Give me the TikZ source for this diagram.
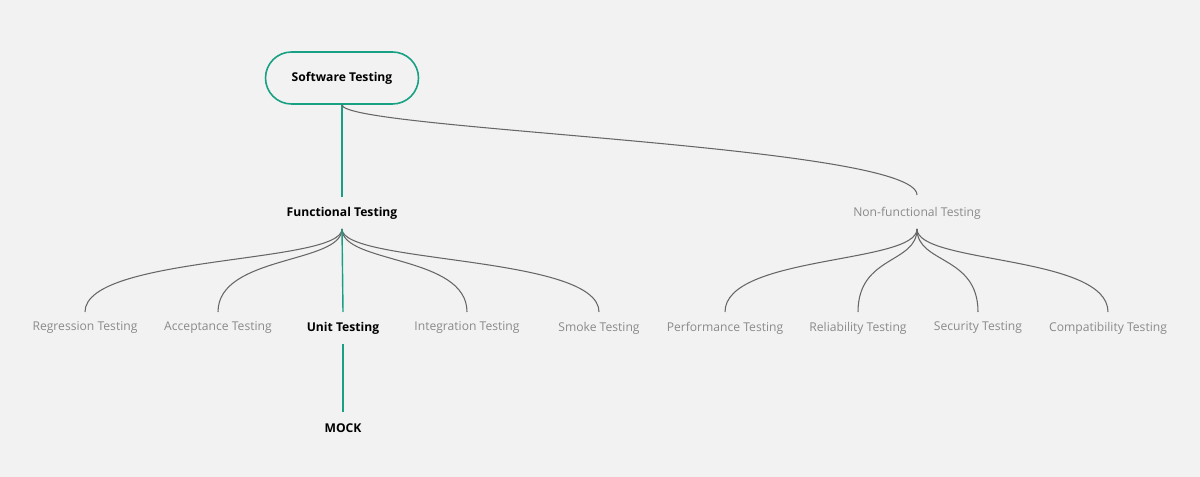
\documentclass[tikz,border=0pt]{standalone}
\usepackage{fontspec}
\setmainfont{Open Sans}
\usetikzlibrary{calc}
\definecolor{bgcol}{HTML}{F2F2F2}
\definecolor{green}{HTML}{17A083}
\definecolor{linecol}{HTML}{666666}
\definecolor{softcol}{HTML}{8A8A8A}

\begin{document}
\begin{tikzpicture}[
    label/.style={font=\fontsize{6.9}{8.5}\selectfont, text=softcol, inner sep=2pt},
    strong/.style={label, text=black, font=\fontsize{6.9}{8.5}\selectfont\bfseries},
    branch/.style={draw=linecol, line width=0.6pt},
    path/.style={draw=green, line width=0.8pt}
]

    % Canvas
    \fill[bgcol] (0,0) rectangle (24,-9.54);
    \useasboundingbox (0,0) rectangle (24,-9.54);

    % Root
    \node[strong, draw=green, line width=0.9pt, rounded corners=0.52cm, minimum width=3.06cm, minimum height=1.04cm] (root) at (6.84,-1.56) {Software Testing};

    % Second level
    \node[strong] (func) at (6.84,-4.26) {Functional Testing};
    \node[label] (nonfunc) at (18.34,-4.26) {Non-functional Testing};
    \coordinate (functop) at (6.84,-3.94);
    \coordinate (nonfunctop) at (18.34,-3.90);
    \coordinate (funcbot) at (6.84,-4.58);
    \coordinate (nonfuncbot) at (18.34,-4.58);

    \draw[path] (root.south) -- (functop);
    \draw[branch] (root.south) .. controls (6.84,-2.6) and (18.34,-2.9) .. (nonfunctop);

    % Functional children
    \foreach \name/\x/\txt in {regr/1.70/Regression Testing, accept/4.36/Acceptance Testing,
        integ/9.34/Integration Testing, smoke/11.98/Smoke Testing} {
        \node[label] (\name) at (\x,-6.56) {\txt};
        \draw[branch] (funcbot) .. controls ($(funcbot)+(0,-0.7)$) and (\x,-5.1) .. (\x,-6.24);
    }
    \node[strong] (unit) at (6.86,-6.56) {Unit Testing};
    \draw[path] (funcbot) -- (6.86,-6.24);

    % Non-functional children
    \foreach \name/\x/\txt in {perf/14.50/Performance Testing, reli/17.16/Reliability Testing,
        secu/19.56/Security Testing, compat/22.16/Compatibility Testing} {
        \node[label] (\name) at (\x,-6.56) {\txt};
        \draw[branch] (nonfuncbot) .. controls ($(nonfuncbot)+(0,-0.7)$) and (\x,-5.1) .. (\x,-6.24);
    }

    % Mock
    \node[strong] (mock) at (6.86,-8.56) {MOCK};
    \draw[path] (6.86,-6.88) -- (6.86,-8.24);

\end{tikzpicture}
\end{document}
